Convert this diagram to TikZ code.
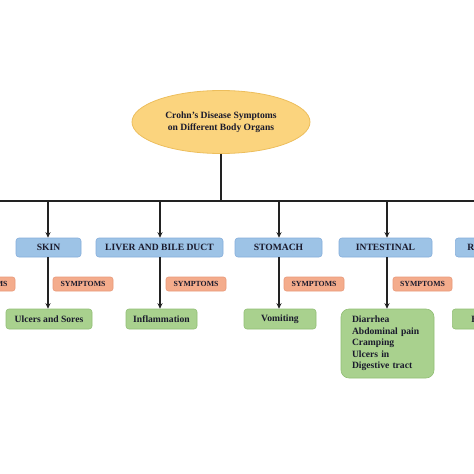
\documentclass[tikz,border=0pt]{standalone}
\usepackage{fontspec}
\setmainfont{Liberation Serif}
\usetikzlibrary{shapes.geometric,arrows.meta}
\definecolor{ellfill}{HTML}{FBD47E}
\definecolor{elldraw}{HTML}{EDBE5C}
\definecolor{bluefill}{HTML}{9DC3E6}
\definecolor{bluedraw}{HTML}{86AEDB}
\definecolor{salfill}{HTML}{F4AC8C}
\definecolor{saldraw}{HTML}{E99A7A}
\definecolor{grnfill}{HTML}{A9D18E}
\definecolor{grndraw}{HTML}{92BF76}
\definecolor{txt}{HTML}{1A1A2C}
\definecolor{ln}{HTML}{222222}
\tikzset{
  titlebox/.style={ellipse, fill=ellfill, draw=elldraw, line width=0.8pt, minimum width=178pt, minimum height=63pt, inner sep=0pt, align=center, font=\fontsize{9.6}{12}\selectfont\bfseries, text=txt},
  organbox/.style={rectangle, rounded corners=3pt, fill=bluefill, draw=bluedraw, line width=0.6pt, minimum height=19pt, inner sep=0pt, font=\fontsize{9.6}{11}\selectfont\bfseries, text=txt},
  sympill/.style={rectangle, rounded corners=2.5pt, fill=salfill, draw=saldraw, line width=0.6pt, minimum width=60pt, minimum height=14pt, inner sep=0pt, font=\fontsize{7.8}{9}\selectfont\bfseries, text=txt},
  resbox/.style={rectangle, rounded corners=3pt, fill=grnfill, draw=grndraw, line width=0.6pt, minimum height=20pt, inner sep=0pt, font=\fontsize{9.6}{11}\selectfont\bfseries, text=txt},
  conn/.style={draw=ln, line width=1.6pt},
  arr/.style={conn, -{Stealth[length=5.5pt,width=5pt]}}
}
\begin{document}
\begin{tikzpicture}[x=1pt,y=-1pt]
\useasboundingbox (0,0) rectangle (474,474);
\clip (0,0) rectangle (474,474);
\fill[white] (0,0) rectangle (474,474);

\node[titlebox] (title) at (221,122) {Crohn’s Disease Symptoms\\on Different Body Organs};

\coordinate (barL) at (0,201);
\coordinate (barR) at (474,201);

\node[organbox, minimum width=65pt] (skin) at (48.5,247.5) {SKIN};
\node[organbox, minimum width=127pt] (liver) at (159.5,247.5) {LIVER AND BILE DUCT};
\node[organbox, minimum width=87pt] (stomach) at (278.5,247.5) {STOMACH};
\node[organbox, minimum width=93pt] (intest) at (385.5,247.5) {INTESTINAL};
\node[organbox, minimum width=60pt, anchor=west, align=left, text width=52pt, inner xsep=0pt] (rect) at (455,247.5) {\hspace*{8pt}R};

\node[sympill] (symL) at (-15,284) {SYMPTOMS};
\node[sympill] (sym1) at (83,284) {SYMPTOMS};
\node[sympill] (sym2) at (196,284) {SYMPTOMS};
\node[sympill] (sym3) at (314,284) {SYMPTOMS};
\node[sympill, minimum width=59pt] (sym4) at (422.5,284) {SYMPTOMS};

\node[resbox, minimum width=86pt] (ulcers) at (49,319) {Ulcers and Sores};
\node[resbox, minimum width=71pt] (infl) at (161.5,319) {Inflammation};
\node[resbox, minimum width=72pt] (vomit) at (280,319) {Vomiting};
\node[resbox, rounded corners=8pt, minimum width=93pt, minimum height=69pt, text width=71pt, align=left, font=\fontsize{9.6}{11.5}\selectfont\bfseries] (intres) at (387.5,343.5) {Diarrhea\\Abdominal pain\\Cramping\\Ulcers in\\Digestive tract};
\node[resbox, minimum width=60pt, anchor=west, align=left, text width=52pt] (rres) at (452,319) {\hspace*{15pt}E};

\draw[conn] (title.south) -- (title.south |- barL);
\draw[conn] (barL) -- (barR);

\draw[arr] ([xshift=-0.5pt]skin.north |- barL) -- ([xshift=-0.5pt]skin.north);
\draw[arr] ([xshift=0.5pt]liver.north |- barL) -- ([xshift=0.5pt]liver.north);
\draw[arr] ([xshift=0.5pt]stomach.north |- barL) -- ([xshift=0.5pt]stomach.north);
\draw[arr] ([xshift=1.5pt]intest.north |- barL) -- ([xshift=1.5pt]intest.north);

\draw[arr] ([xshift=-0.5pt]skin.south) -- ([xshift=-0.5pt]skin.south |- ulcers.north);
\draw[arr] ([xshift=0.5pt]liver.south) -- ([xshift=0.5pt]liver.south |- infl.north);
\draw[arr] ([xshift=0.5pt]stomach.south) -- ([xshift=0.5pt]stomach.south |- vomit.north);
\draw[arr] ([xshift=1.5pt]intest.south) -- ([xshift=1.5pt]intest.south |- intres.north);
\end{tikzpicture}
\end{document}
